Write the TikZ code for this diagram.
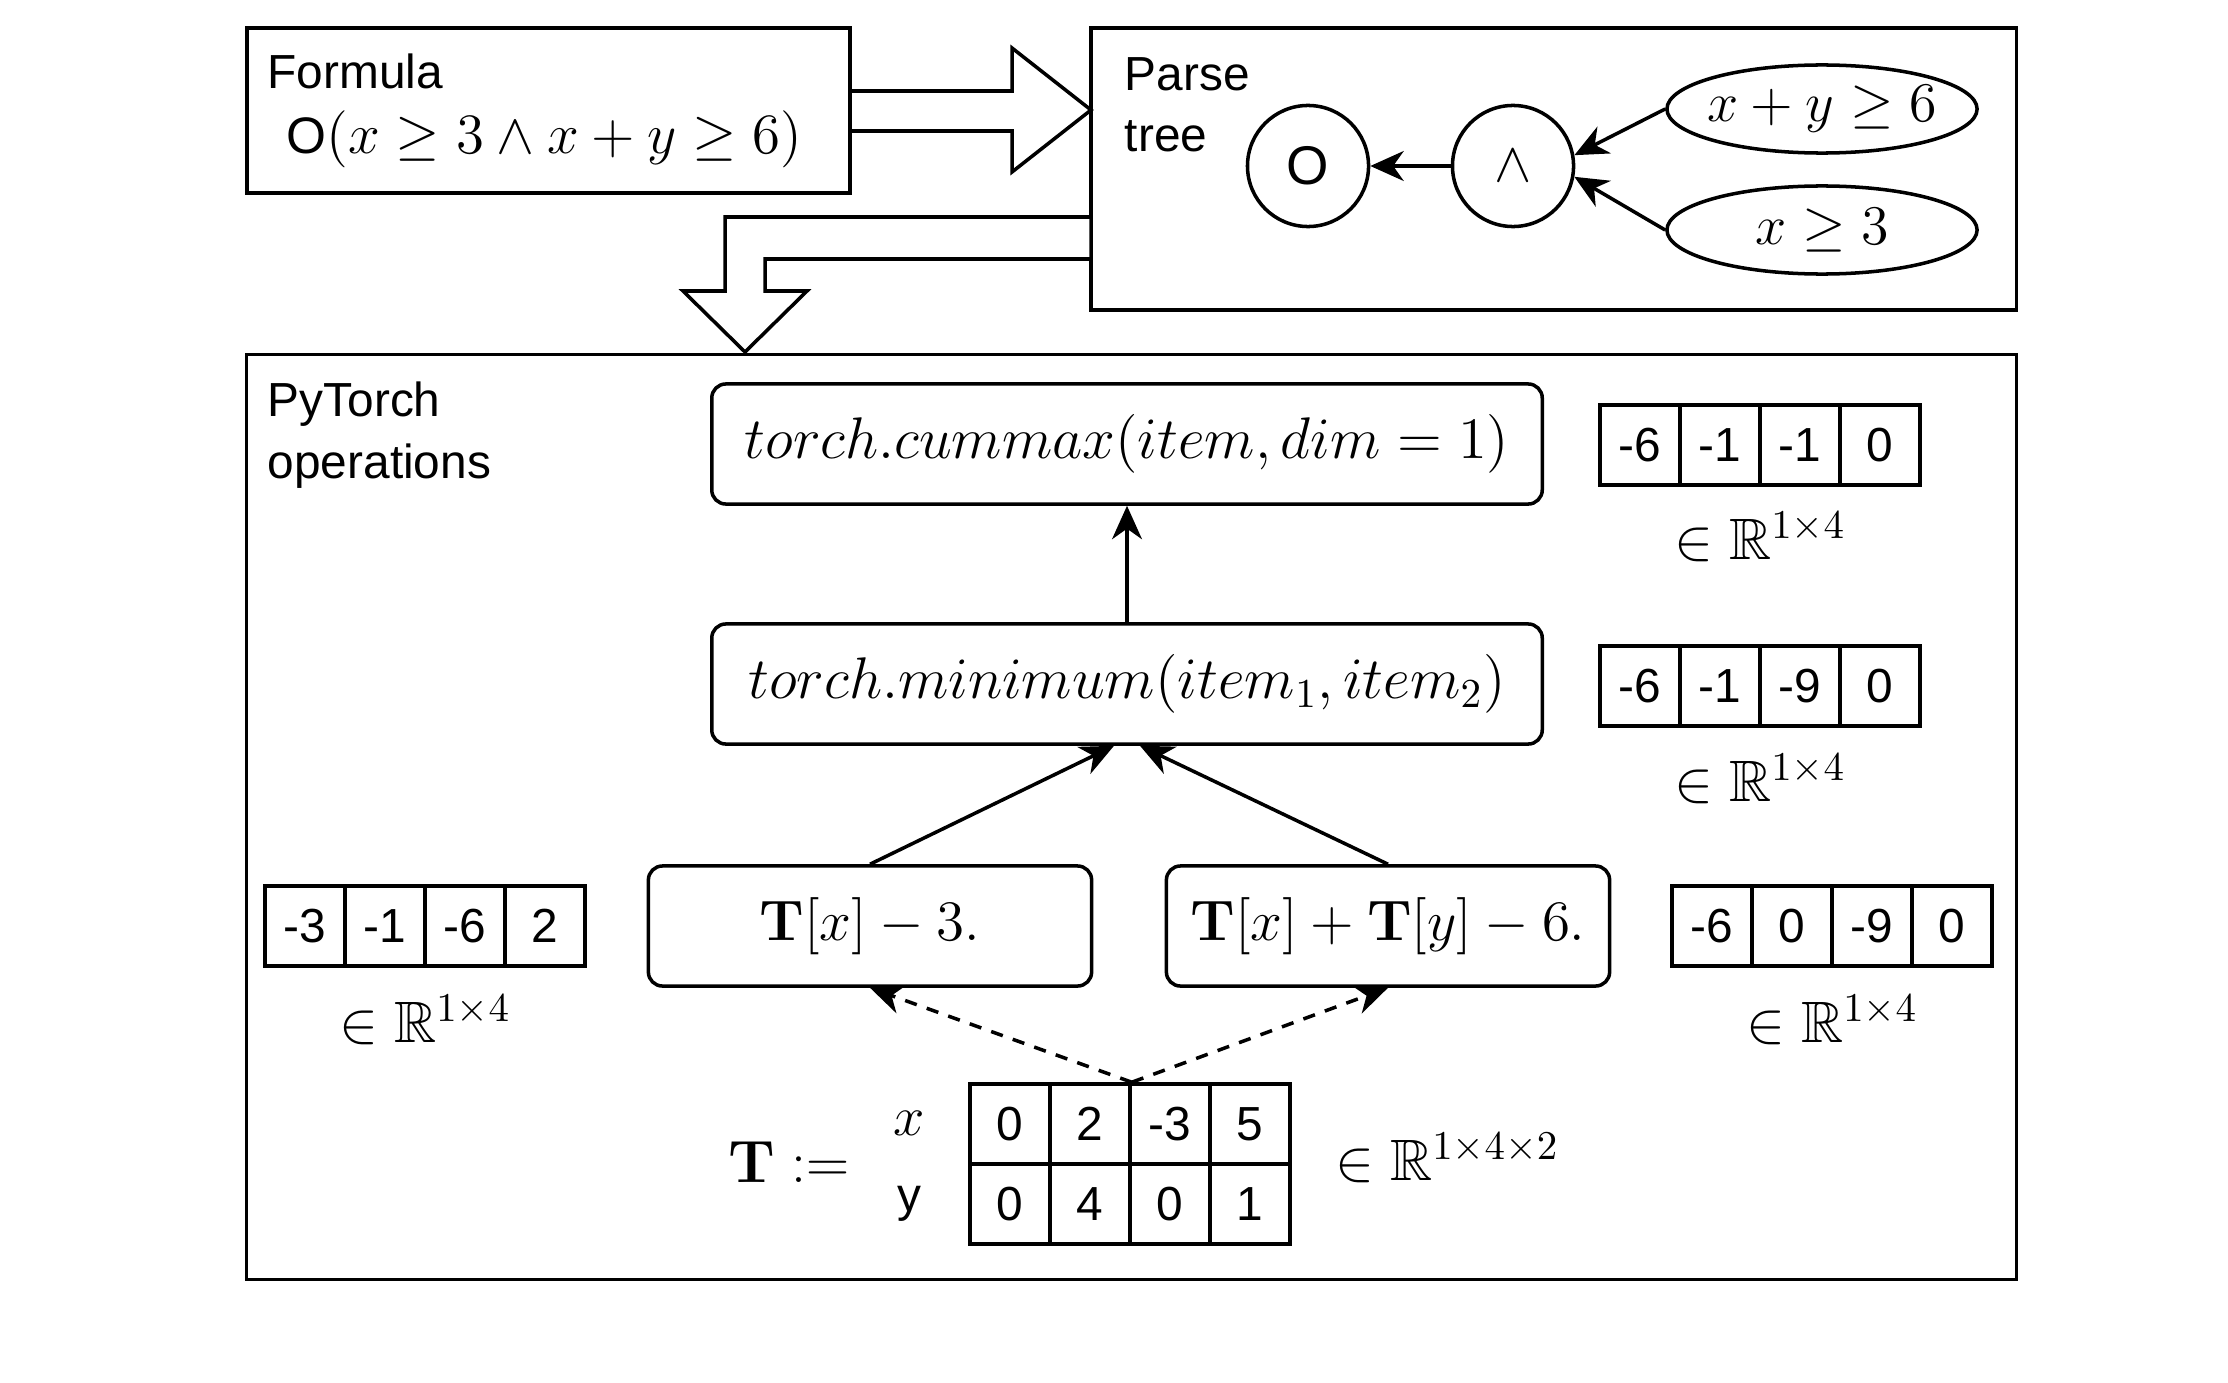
\RequirePackage{fix-cm}
\documentclass[tikz,border=0pt]{standalone}
\usepackage{amsmath,amssymb}
\usepackage[no-math]{fontspec}
\setmainfont{Liberation Sans}
\usetikzlibrary{arrows.meta,shapes.geometric}

\begin{document}
\begin{tikzpicture}[x=0.01cm,y=-0.01cm,line width=1pt,>={Stealth[length=9.5pt,width=8.5pt,inset=3pt]},every node/.style = {font=\fontsize{13.6}{17.5}\selectfont}]
\tikzstyle{frame} = [draw,inner sep=0pt];
\tikzstyle{tag} = [anchor=west,align=left,inner sep=0pt]
\tikzstyle{op} = [draw,rounded corners=4pt,minimum width=8.3cm,minimum height=1.2cm,font=\fontsize{16.7}{19}\selectfont]
\tikzstyle{tree} = [draw,circle,minimum size=1.21cm,inner sep=0pt]
\tikzstyle{atom} = [draw,ellipse,minimum width=3.1cm,minimum height=0.88cm,inner xsep=-0.15cm,inner ysep=0pt,font=\fontsize{15.9}{19}\selectfont]
\tikzstyle{cell} = [draw,minimum size=0.8cm,inner sep=0pt]
\tikzstyle{rset} = [inner sep=0pt,font=\fontsize{16.6}{19}\selectfont]
\tikzstyle{fat} = [draw,fill=white]
\useasboundingbox (0,0) rectangle (2228,1382);

\node [frame,minimum width=6.03cm,minimum height=1.65cm] (v1) at (548.5,110.5) {};
\node [tag] (v2) at (266,71) {Formula};
\node [tag,font=\fontsize{16.2}{19}\selectfont] (v3) at (285,139) {{\fontsize{14.6}{19}\selectfont O}$(x\geq 3\wedge x+y\geq 6)$};
\node [frame,minimum width=9.25cm,minimum height=2.82cm] (v4) at (1553.5,169) {};
\node [tag] (v5) at (1123,105) {Parse\\tree};
\draw [fat] (850,91) -- (1012,91) -- (1012,48) -- (1091,110) -- (1012,172) -- (1012,131) -- (850,131) -- cycle;

\node [tree,font=\fontsize{15.5}{18}\selectfont] (v6) at (1308,166) {O};
\node [tree,font=\fontsize{15.9}{19}\selectfont] (v7) at (1513,166) {$\wedge$};
\node [atom] (v8) at (1822,109) {$x+y\geq 6$};
\node [atom] (v9) at (1822,230) {$x\geq 3$};
\draw[->]  (v7) edge (v6);
\draw[->]  (v8.west) -- (v7.10);
\draw[->]  (v9.west) -- (v7.-10);

\node [frame,minimum width=17.69cm,minimum height=9.24cm] (v10) at (1131.5,817) {};
\draw [fat] (1091,217) -- (725,217) -- (725,291) -- (683,291) -- (745,352) -- (807,291) -- (765,291) -- (765,259) -- (1091,259) -- cycle;
\node [tag] (v11) at (266,435) {PyTorch\\operations};

\node [op] (v12) at (1127,444) {$torch.cummax(item,dim=1)$};
\node [op] (v13) at (1127,684) {$torch.minimum(item_1,item_2)$};
\node [op,minimum width=4.43cm,font=\fontsize{16.25}{19}\selectfont] (v14) at (870,926) {$\mathbf{T}[x]-3.$};
\node [op,minimum width=4.43cm,font=\fontsize{16.25}{19}\selectfont] (v15) at (1388,926) {$\mathbf{T}[x]+\mathbf{T}[y]-6.$};
\draw[->]  (v13) edge (v12);
\draw[->]  (v14.north) -- ([xshift=-1.3mm]v13.south);
\draw[->]  (v15.north) -- ([xshift=1.3mm]v13.south);

\node [cell] (v16) at (1640,445) {-6};
\node [cell] (v17) at (1720,445) {-1};
\node [cell] (v18) at (1800,445) {-1};
\node [cell] (v19) at (1880,445) {0};
\node [rset] (v20) at (1760,537) {$\in\mathbb{R}^{1\times 4}$};
\node [cell] (v21) at (1640,686) {-6};
\node [cell] (v22) at (1720,686) {-1};
\node [cell] (v23) at (1800,686) {-9};
\node [cell] (v24) at (1880,686) {0};
\node [rset] (v25) at (1760,779) {$\in\mathbb{R}^{1\times 4}$};
\node [cell] (v26) at (305,926) {-3};
\node [cell] (v27) at (385,926) {-1};
\node [cell] (v28) at (465,926) {-6};
\node [cell] (v29) at (545,926) {2};
\node [rset] (v30) at (425,1020) {$\in\mathbb{R}^{1\times 4}$};
\node [cell] (v31) at (1712,926) {-6};
\node [cell] (v32) at (1792,926) {0};
\node [cell] (v33) at (1872,926) {-9};
\node [cell] (v34) at (1952,926) {0};
\node [rset] (v35) at (1832,1020) {$\in\mathbb{R}^{1\times 4}$};

\node [rset,font=\fontsize{17}{19}\selectfont] (v36) at (789,1162) {$\mathbf{T}:=$};
\node [rset,font=\fontsize{16}{19}\selectfont] (v37) at (909,1123) {$x$};
\node (v38) at (909,1204) {y};
\node [cell] (v39) at (1010,1124) {0};
\node [cell] (v40) at (1090,1124) {2};
\node [cell] (v41) at (1170,1124) {-3};
\node [cell] (v42) at (1250,1124) {5};
\node [cell] (v43) at (1010,1204) {0};
\node [cell] (v44) at (1090,1204) {4};
\node [cell] (v45) at (1170,1204) {0};
\node [cell] (v46) at (1250,1204) {1};
\node [rset] (v47) at (1447,1158) {$\in\mathbb{R}^{1\times 4\times 2}$};
\draw[->,dash pattern=on 3.5pt off 3pt]  (v40.north east) -- (v14.south);
\draw[->,dash pattern=on 3.5pt off 3pt]  (v40.north east) -- (v15.south);
\end{tikzpicture}
\end{document}
